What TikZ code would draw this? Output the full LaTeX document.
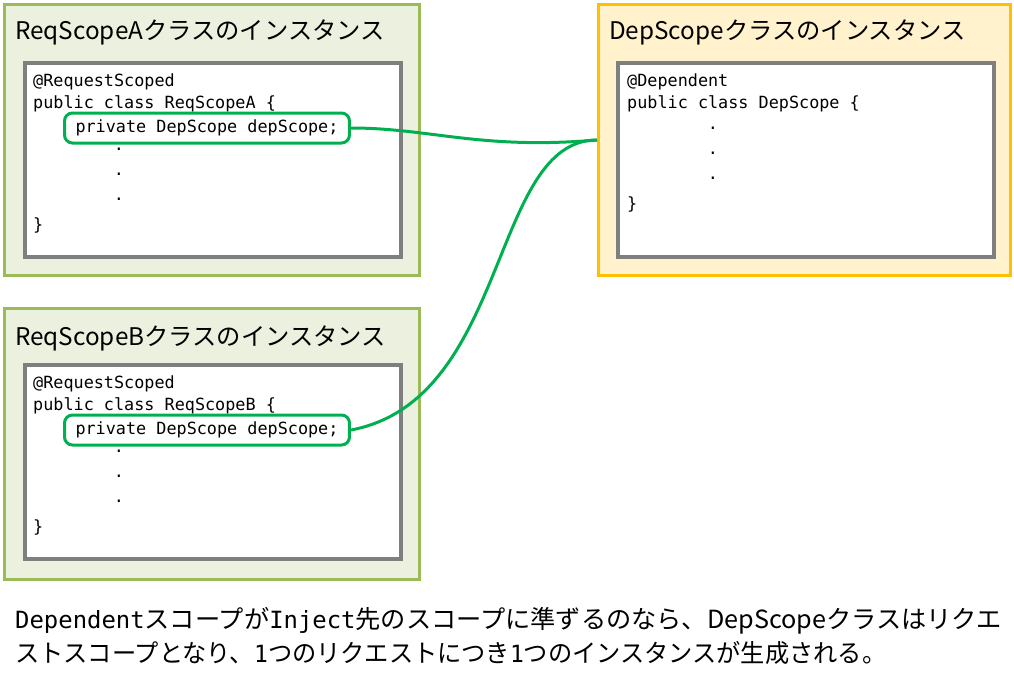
\documentclass[tikz,border=0pt]{standalone}
\usepackage{graphicx}
\usepackage{fontspec}
\setmainfont{Noto Sans CJK JP}
\newfontfamily\codefont{DejaVu Sans Mono}
\definecolor{grnB}{HTML}{9BBB59}
\definecolor{grnF}{HTML}{EBF1DE}
\definecolor{orgB}{HTML}{FFC000}
\definecolor{orgF}{HTML}{FFF2CC}
\definecolor{grayB}{HTML}{7F7F7F}
\definecolor{conG}{HTML}{00B050}
\newcommand{\mc}[1]{{\codefont\fontsize{23.7}{35}\selectfont #1}}
\begin{document}
\begin{tikzpicture}[x=1pt,y=-1pt,
  outerA/.style={draw=grnB,fill=grnF,line width=3pt,inner sep=0pt,anchor=north west,minimum width=415pt,minimum height=271pt},
  outerD/.style={draw=orgB,fill=orgF,line width=3pt,inner sep=0pt,anchor=north west,minimum width=412pt,minimum height=271pt},
  inner/.style={draw=grayB,fill=white,line width=4pt,inner sep=0pt,anchor=north west,minimum width=376pt,minimum height=194pt},
  title/.style={anchor=base west,inner sep=0pt,font=\fontsize{24.3}{28}\selectfont},
  code/.style={anchor=base west,inner sep=0pt,font=\codefont\fontsize{16.8}{20}\selectfont},
  dot/.style={anchor=base,inner sep=0pt,font=\codefont\fontsize{16.8}{20}\selectfont},
  hl/.style={draw=conG,line width=3pt,rounded corners=8pt,inner xsep=11pt,inner ysep=0pt,minimum height=30pt,anchor=west,font=\codefont\fontsize{16.8}{20}\selectfont},
  conn/.style={draw=conG,line width=3pt}
]
\useasboundingbox (0,0) rectangle (1014,685);
% Box A
\node[outerA] (boxA) at (3,3) {};
\node[title] (titA) at (15,40) {ReqScopeAクラスのインスタンス};
\node[inner] (inA) at (23,61) {};
\node[code] (a1) at (33,86) {@RequestScoped};
\node[code] (a2) at (33,108) {public class ReqScopeA \{};
\node[hl] (hlA) at (63,128) {private DepScope depScope;};
\node[dot] (a3) at (119,150) {.};
\node[dot] (a4) at (119,175) {.};
\node[dot] (a5) at (119,200) {.};
\node[code] (a6) at (33,230) {\}};
% Box B
\node[outerA] (boxB) at (3,307) {};
\node[title] (titB) at (15,345) {ReqScopeBクラスのインスタンス};
\node[inner] (inB) at (23,363) {};
\node[code] (b1) at (33,388) {@RequestScoped};
\node[code] (b2) at (33,410) {public class ReqScopeB \{};
\node[hl] (hlB) at (63,430) {private DepScope depScope;};
\node[dot] (b3) at (119,452) {.};
\node[dot] (b4) at (119,477) {.};
\node[dot] (b5) at (119,502) {.};
\node[code] (b6) at (33,532) {\}};
% Box D
\node[outerD] (boxD) at (597,3) {};
\node[title] (titD) at (609,40) {DepScopeクラスのインスタンス};
\node[inner] (inD) at (616,61) {};
\node[code] (d1) at (627,86) {@Dependent};
\node[code] (d2) at (627,108) {public class DepScope \{};
\node[dot] (d3) at (713,129) {.};
\node[dot] (d4) at (713,154) {.};
\node[dot] (d5) at (713,179) {.};
\node[code] (d6) at (627,209) {\}};
% connectors
\draw[conn] (hlA.east) .. controls (430,128) and (480,150) .. (boxD.west);
\draw[conn] (hlB.east) .. controls (510,400) and (490,140) .. (boxD.west);
% note
\node[anchor=base west,inner sep=0pt,align=left,font=\fontsize{25}{34}\selectfont] (note) at (15,662)
{\resizebox{987pt}{\height}{\mc{Dependent}スコープが\mc{Inject}先のスコープに準ずるのなら、DepScopeクラスはリクエ}\\
 \resizebox{871pt}{\height}{ストスコープとなり、\mc{1}つのリクエストにつき\mc{1}つのインスタンスが生成される。}};
\end{tikzpicture}
\end{document}
